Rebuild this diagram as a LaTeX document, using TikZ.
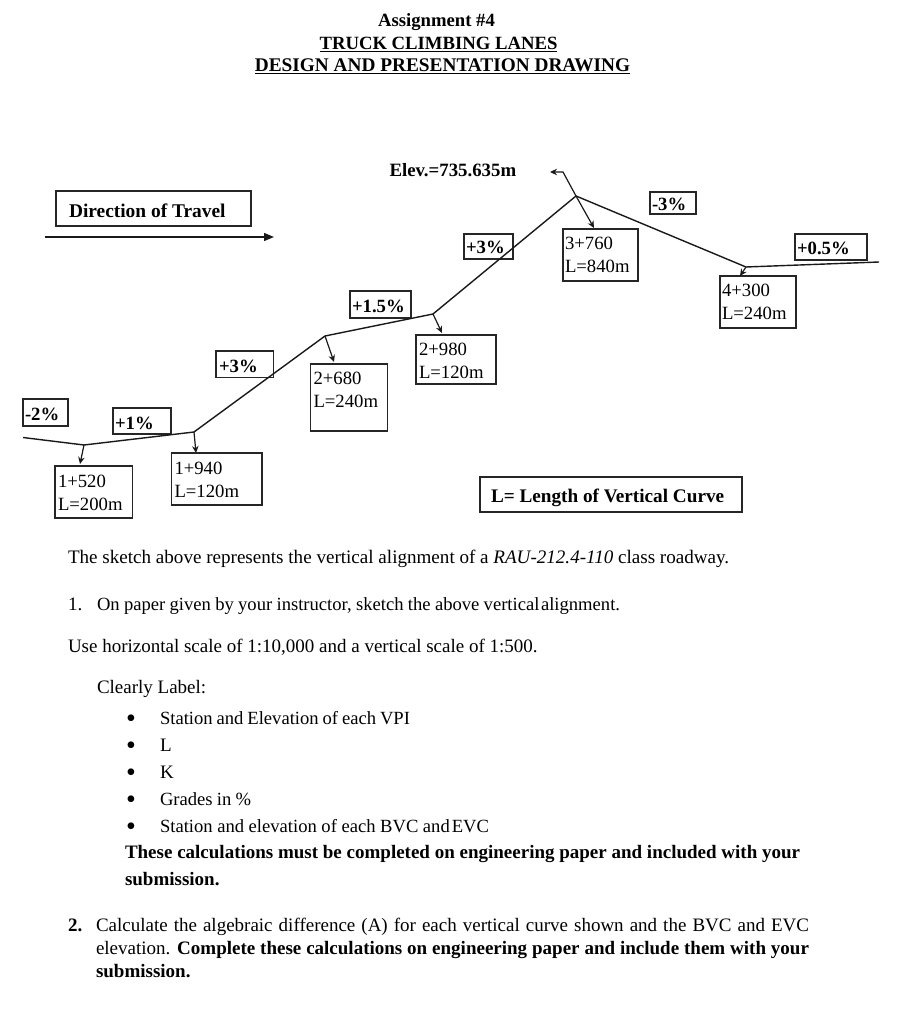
\documentclass[tikz,border=0pt]{standalone}
\usepackage{fontspec}
\setmainfont{Liberation Serif}
\usetikzlibrary{arrows.meta}
\newcommand{\fsz}{\fontsize{19}{23}\selectfont}
\newcommand{\fbx}{\fontsize{18.7}{23}\selectfont}
\newcommand{\bx}[8]{\node[boxst,anchor=north west] (#1) at (#2,#3) {\parbox[c][#5pt][t]{#4pt}{\leftskip=#6pt\parindent=0pt\rightskip=0pt plus 1fil\vspace*{#7pt}\fbx #8}};}
\newcommand{\tl}[4]{\node[textst] (#1) at (#2,#3) {\fsz #4};}
\newcommand{\jl}[5]{\node[textst] (#1) at (#2,#3) {\fontsize{18.6}{23}\selectfont\makebox[#4pt][s]{#5}};}
\newcommand{\bul}[3]{\node[textst] (#1) at (#2,#3) {\fontsize{28}{28}\selectfont •};}
\newsavebox{\ulbox}
\newcommand{\ulb}[1]{\sbox{\ulbox}{#1}\rlap{\rule[-2.4pt]{\wd\ulbox}{1.3pt}}\usebox{\ulbox}}
\tikzset{
  boxst/.style={draw=black!85,line width=1.05pt,inner sep=0pt,outer sep=0pt},
  textst/.style={anchor=base west,inner sep=0pt,outer sep=0pt,text=black},
  roadst/.style={draw=black!90,line width=1.4pt,line join=round},
  callst/.style={draw=black!90,line width=1.2pt,-{Stealth[length=7pt,width=6.5pt]}},
  dirst/.style={draw=black!90,line width=1.3pt,-{Stealth[length=10pt,width=8pt,inset=0pt]}},
}
\begin{document}
\begin{tikzpicture}[x=1pt,y=-1pt]
\useasboundingbox (0,0) rectangle (913,1024);
% title
\node[textst,anchor=base] (t1) at (436.5,27) {\fontsize{18.7}{22}\selectfont\bfseries Assignment \#4};
\node[textst,anchor=base] (t2) at (438.5,49.5) {\fontsize{18.7}{22}\selectfont\bfseries\ulb{TRUCK CLIMBING LANES}};
\node[textst,anchor=base] (t3) at (442.5,72) {\fontsize{19.3}{22}\selectfont\bfseries\ulb{DESIGN AND PRESENTATION DRAWING}};
% boxes
\bx{dir}{56}{191}{195}{35}{13}{13}{\fontsize{19.4}{23}\selectfont\bfseries Direction of Travel}
\bx{gA}{23}{399}{45}{27}{2}{9}{\bfseries -2\%}
\bx{gB}{113}{408}{58}{26}{2}{9}{\bfseries +1\%}
\bx{gC}{216}{351}{57.5}{26.5}{3}{9}{\bfseries +3\%}
\bx{gD}{350}{291}{61}{27}{2}{9}{\bfseries +1.5\%}
\bx{gE}{464}{234}{49}{25}{2}{7}{\bfseries +3\%}
\bx{gF}{650}{192}{46}{22}{2}{6}{\bfseries -3\%}
\bx{gG}{795}{234}{72}{26}{2}{8}{\bfseries +0.5\%}
\bx{s1}{55}{466}{77.5}{52}{3}{9}{1+520\\L=200m}
\bx{s2}{171.5}{453}{90.5}{52}{3}{9}{1+940\\L=120m}
\bx{s3}{310.5}{364}{77}{67}{3}{8}{2+680\\L=240m}
\bx{s4}{416}{335}{80}{49}{3}{8}{2+980\\L=120m}
\bx{s5}{563}{229}{75}{52}{2}{8}{3+760\\L=840m}
\bx{s6}{720}{276}{76}{52}{2}{8}{4+300\\L=240m}
\bx{leg}{480}{477}{262}{35}{11}{12}{\fontsize{19.2}{23}\selectfont\bfseries L= Length of Vertical Curve}
\node[textst] (elev) at (389.5,177) {\fontsize{18.8}{22}\selectfont\bfseries Elev.=735.635m};
% road vertices
\coordinate (p0) at (23,437.5);
\coordinate (p1) at (84,445);
\coordinate (p2) at (194,432);
\coordinate (p3) at (325,336);
\coordinate (p4) at (433,314);
\coordinate (p5) at (576,196);
\coordinate (p6) at (746,267);
\coordinate (p7) at (879,262);
\draw[roadst] (p0) -- (p1) -- (p2) -- (p3) -- (p4) -- (p5) -- (p6) -- (p7);
% callouts
\coordinate (a1) at (80,464);
\coordinate (a2) at (196,453);
\coordinate (a3) at (334,362);
\coordinate (a4) at (442,333);
\coordinate (a5) at (594,228);
\coordinate (a6) at (740,276);
\coordinate (a7) at (563,172);
\coordinate (a8) at (550,172);
\draw[callst] (p1) -- (a1);
\draw[callst] (p2) -- (a2);
\draw[callst] (p3) -- (a3);
\draw[callst] (p4) -- (a4);
\draw[callst] (p5) -- (a5);
\draw[callst] (p6) -- (a6);
\draw[callst] (p5) -- (a7) -- (a8);
% direction arrow
\coordinate (d0) at (45,237);
\coordinate (d1) at (274,237);
\draw[dirst] (d0) -- (d1);
% body
\node[textst] (b1) at (68,563) {\fontsize{19.08}{23}\selectfont The sketch above represents the vertical alignment of a \textit{RAU-212.4-110} class roadway.};
\tl{b2n}{68}{610}{1.}
\jl{b2}{97}{610}{523}{On paper given by your instructor, sketch the above vertical\hspace{1.5pt}alignment.}
\tl{b3}{68}{652}{Use horizontal scale of 1:10,000 and a vertical scale of 1:500.}
\tl{b4}{97}{693}{Clearly Label:}
\bul{k1}{126}{727}\jl{c1}{160}{724}{250}{Station and Elevation of each VPI}
\bul{k2}{126}{754}\tl{c2}{160}{751}{L}
\bul{k3}{126}{781}\tl{c3}{160}{778}{K}
\bul{k4}{126}{808}\jl{c4}{160}{805}{91}{Grades in \%}
\bul{k5}{126}{835}\jl{c5}{160}{832}{329}{Station and elevation of each BVC and\hspace{2pt}EVC}
\tl{b5}{125}{858}{\bfseries These calculations must be completed on engineering paper and included with your}
\tl{b6}{125}{885}{\bfseries submission.}
\tl{n2}{68}{931}{\bfseries 2.}
\node[textst] (b7) at (96,931) {\fsz\makebox[713pt][s]{Calculate the algebraic difference (A) for each vertical curve shown and the BVC and EVC}};
\node[textst] (b8) at (96,954) {\fsz\makebox[713pt][s]{elevation. \textbf{Complete these calculations on engineering paper and include them with your}}};
\tl{b9}{96}{977}{\bfseries submission.}
\end{tikzpicture}
\end{document}
